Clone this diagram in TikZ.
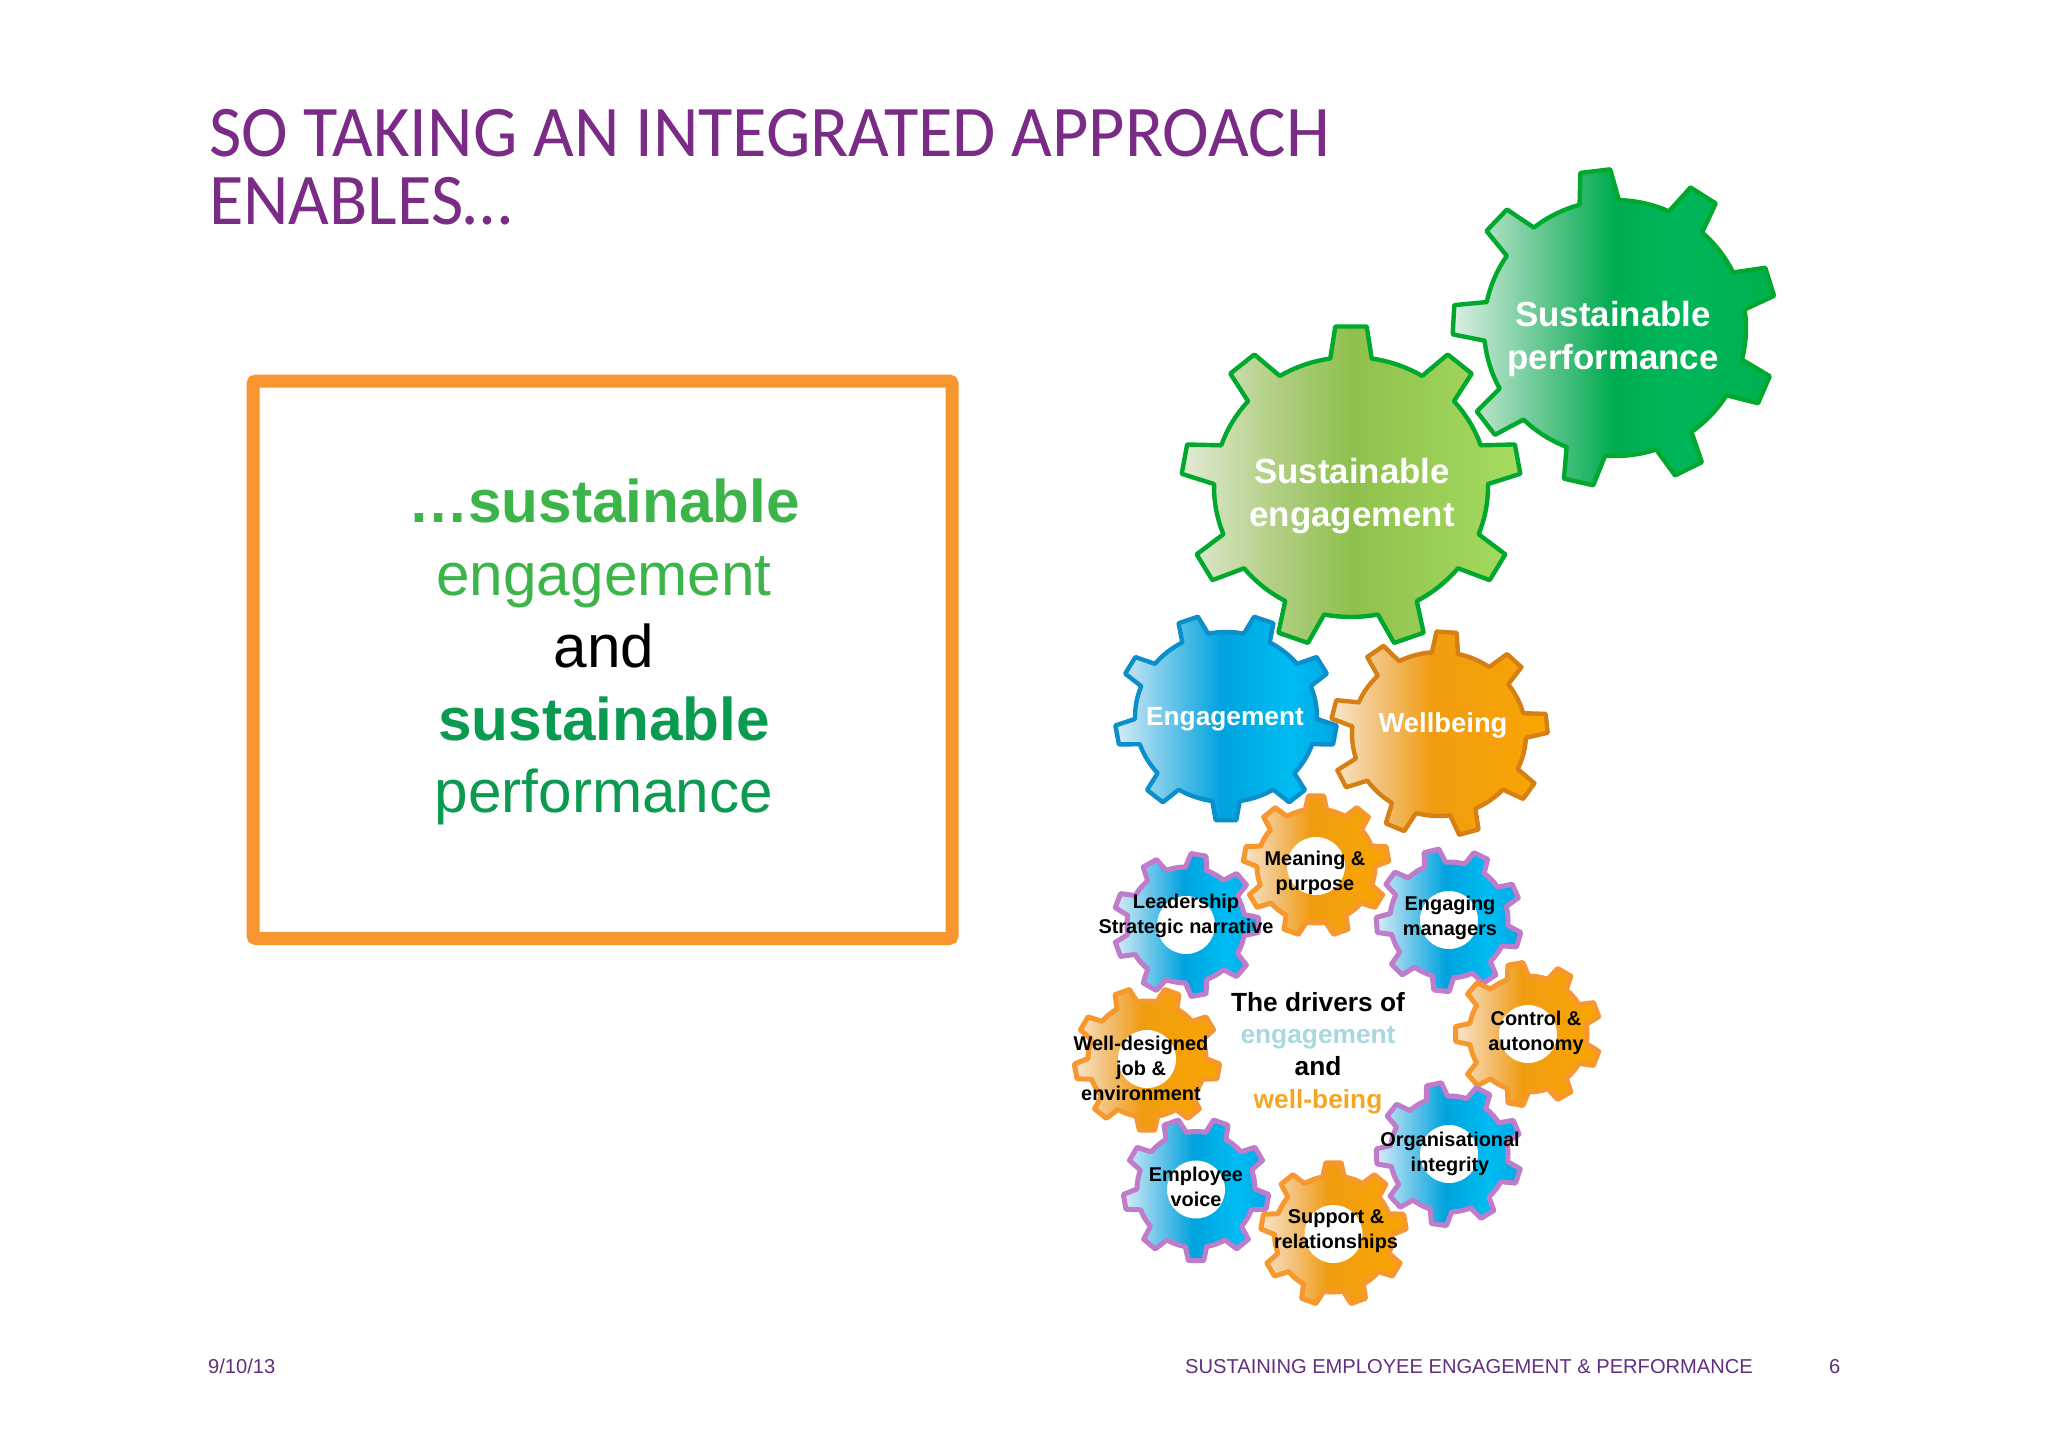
\documentclass[tikz,border=0pt]{standalone}
\usepackage{fontspec}
\setmainfont{Liberation Sans}
\newfontfamily\calfont{Carlito}
\definecolor{titlepurple}{HTML}{7A2B85}
\definecolor{footpurple}{HTML}{62307E}
\definecolor{boxorange}{HTML}{F7962E}
\definecolor{txtgreen}{HTML}{3CB44A}
\definecolor{txtdeep}{HTML}{0A9A50}
\definecolor{paleblue}{HTML}{A8D8E0}
\definecolor{midorange}{HTML}{F5A623}
\definecolor{sgA}{HTML}{DCEFE3}\definecolor{sgB}{HTML}{5BC48A}\definecolor{sgC}{HTML}{00AC50}\definecolor{sgD}{HTML}{00B65A}\definecolor{sgE}{HTML}{00B050}
\definecolor{lgA}{HTML}{E2EBD6}\definecolor{lgB}{HTML}{B4D088}\definecolor{lgC}{HTML}{8FC04E}\definecolor{lgD}{HTML}{A6DC60}
\definecolor{blA}{HTML}{D8ECF7}\definecolor{blB}{HTML}{6CC6EA}\definecolor{blC}{HTML}{00A3DE}\definecolor{blD}{HTML}{00BCF2}\definecolor{blE}{HTML}{00A8E4}
\definecolor{orA}{HTML}{F9E6CC}\definecolor{orB}{HTML}{F2BE72}\definecolor{orC}{HTML}{F09C12}\definecolor{orD}{HTML}{F9A602}
\definecolor{edgeGreen}{HTML}{00A82D}
\definecolor{edgeBlue}{HTML}{0A8FCB}
\definecolor{edgeOrange}{HTML}{D67F14}
\definecolor{edgeLight}{HTML}{F7982F}
\definecolor{edgePurple}{HTML}{BE7CCB}
\pgfdeclarehorizontalshading{shadeSP}{100bp}{color(0bp)=(sgA); color(25bp)=(sgA); color(40bp)=(sgB); color(50bp)=(sgC); color(60bp)=(sgD); color(75bp)=(sgE); color(100bp)=(sgE)}
\pgfdeclarehorizontalshading{shadeSE}{100bp}{color(0bp)=(lgA); color(25bp)=(lgA); color(38bp)=(lgB); color(50bp)=(lgC); color(75bp)=(lgD); color(100bp)=(lgD)}
\pgfdeclarehorizontalshading{shadeBlue}{100bp}{color(0bp)=(blA); color(25bp)=(blA); color(37bp)=(blB); color(49bp)=(blC); color(64bp)=(blD); color(75bp)=(blE); color(100bp)=(blE)}
\pgfdeclarehorizontalshading{shadeOrange}{100bp}{color(0bp)=(orA); color(25bp)=(orA); color(37bp)=(orB); color(48bp)=(orC); color(75bp)=(orD); color(100bp)=(orD)}
\tikzset{
  cogbase/.style={line width=4.4bp,line join=round},
  cogSP/.style={cogbase,draw=edgeGreen,shading=shadeSP},
  cogSE/.style={cogbase,draw=edgeGreen,shading=shadeSE},
  cogBlue/.style={cogbase,draw=edgeBlue,shading=shadeBlue},
  cogOrange/.style={cogbase,draw=edgeOrange,shading=shadeOrange},
  cogA/.style={cogbase,line width=5bp,draw=edgeLight,shading=shadeOrange},
  cogB/.style={cogbase,line width=5bp,draw=edgePurple,shading=shadeBlue},
  bigwhite/.style={inner sep=0pt,align=center,text=white,font=\bfseries\fontsize{35}{42.5}\selectfont},
  smallblack/.style={inner sep=0pt,align=center,text=black,font=\bfseries\fontsize{20}{25}\selectfont},
  boxline/.style={inner sep=0pt,align=center,font=\fontsize{60.5}{72.7}\selectfont},
  titletext/.style={anchor=base west,inner sep=0pt,text=titlepurple,font=\calfont\fontsize{73}{68}\selectfont,xscale=.967,transform shape},
  foottext/.style={anchor=base west,inner sep=0pt,text=footpurple,font=\fontsize{20.2}{24}\selectfont},
}
\def\cogb{8.7}\def\cogt{5.3}
\newcommand\cog[7]{%
  \begin{scope}[shift={(#2,#3)},x=#4bp,y=#5bp]
    \shade[#1,draw] ({#6-\cogb}:1)
      \foreach \i [evaluate=\i as \a using #6+\i*40] in {0,...,8}{
        -- ({\a-\cogb}:1) -- ({\a-\cogt}:#7) -- ({\a+\cogt}:#7) -- ({\a+\cogb}:1)
        \foreach \s in {1,...,7}{ -- ({\a+\cogb+\s*(40-2*\cogb)/8}:1) }
      } -- cycle;
  \end{scope}}
\newcommand\hole[2]{\fill[white] (#1,#2) ellipse [x radius=29bp,y radius=29bp];}
\begin{document}
\begin{tikzpicture}[x=1bp,y=-1bp]
\useasboundingbox (0,0) rectangle (2048,1447);
\fill[white] (0,0) rectangle (2048,1447);
% title
\node[titletext] (title) at (209,157) {SO TAKING AN INTEGRATED APPROACH};
\node[titletext] (title2) at (209,225) {ENABLES…};
% box
\draw[boxorange,line width=13bp,rounded corners=3bp] (253,381) rectangle (952,938.5);
\node[boxline,anchor=center] (boxtext) at (604,652) {%
  {\color{txtgreen}\bfseries …sustainable}\\
  {\color{txtgreen}engagement}\\
  {\color{black}and}\\
  {\color{txtdeep}\bfseries sustainable}\\
  {\color{txtdeep}performance}};
% large cogs
\def\cogb{8.7}\def\cogt{5.3}
\cog{cogSP}{1615}{328}{131}{128}{97}{1.24}
\cog{cogOrange}{1439}{734}{87}{82}{86}{1.25}
\cog{cogBlue}{1226}{717}{91}{85}{70}{1.22}
\cog{cogSE}{1351}{487}{137}{130}{90}{1.24}
\node[bigwhite] (sp) at (1613,339) {Sustainable\\performance};
\node[bigwhite] (se) at (1352,496) {Sustainable\\engagement};
\node[inner sep=0pt,text=white,font=\bfseries\fontsize{26.4}{30}\selectfont,anchor=base] (eng) at (1225,725) {Engagement};
\node[inner sep=0pt,text=white,font=\bfseries\fontsize{27.5}{30}\selectfont,anchor=base] (well) at (1443,732) {Wellbeing};
% small cogs
\def\cogb{10.5}\def\cogt{6}
\cog{cogB}{1186}{925}{59}{58}{80}{1.235}\hole{1186}{925}
\cog{cogA}{1316}{866}{59}{57}{90}{1.235}\hole{1316}{866}
\cog{cogB}{1449}{920}{59}{58}{104}{1.235}\hole{1449}{920}
\cog{cogA}{1528}{1034}{59}{58}{100}{1.235}\hole{1528}{1034}
\cog{cogA}{1147}{1059}{59}{58}{110}{1.235}\hole{1147}{1059}
\cog{cogB}{1196}{1189.5}{59}{58}{110}{1.235}\hole{1196}{1189.5}
\cog{cogB}{1449}{1154}{59}{58}{102}{1.235}\hole{1449}{1154}
\cog{cogA}{1333.5}{1234}{59}{58}{90}{1.235}\hole{1333.5}{1234}
\node[smallblack] (lead) at (1186,915.5) {Leadership\\Strategic narrative};
\node[smallblack] (mean) at (1315,873) {Meaning \&\\purpose};
\node[smallblack] (engm) at (1450,918) {Engaging\\managers};
\node[smallblack] (ctrl) at (1536,1033) {Control \&\\autonomy};
\node[smallblack] (desg) at (1141,1068) {Well-designed\\job \&\\environment};
\node[smallblack] (orgi) at (1450,1153.5) {Organisational\\integrity};
\node[smallblack] (supp) at (1336,1231) {Support \&\\relationships};
\node[smallblack] (empl) at (1196,1186.5) {Employee\\voice};
\node[inner sep=0pt,align=center,font=\bfseries\fontsize{26.4}{32.5}\selectfont] (drivers) at (1318,1053) {%
  The drivers of\\{\color{paleblue}engagement}\\and\\{\color{midorange}well-being}};
% footer
\node[foottext] (date) at (208,1373) {9/10/13};
\node[foottext] (foot) at (1185,1373) {SUSTAINING EMPLOYEE ENGAGEMENT \& PERFORMANCE};
\node[foottext] (page) at (1829,1373) {6};
\end{tikzpicture}
\end{document}
